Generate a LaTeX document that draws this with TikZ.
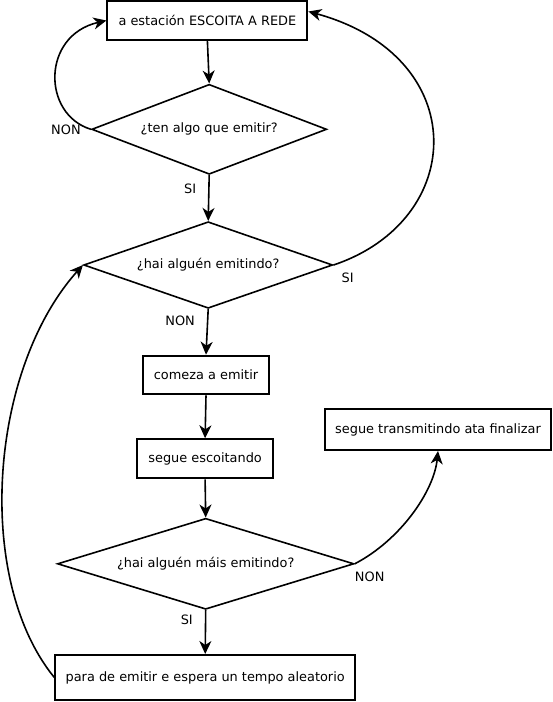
\documentclass[tikz,border=0pt]{standalone}
\usepackage{fontspec}
\setmainfont{DejaVu Sans}
\usetikzlibrary{shapes.geometric,arrows.meta,positioning}

\def\boxHeight{39pt}
\def\labelGap{11pt}

\begin{document}
\begin{tikzpicture}[x=1pt,y=-1pt,
    font=\fontsize{12.9}{15}\selectfont,
    stepbox/.style={draw,line width=2pt,minimum height=\boxHeight,inner sep=2pt},
    question/.style={draw,diamond,shape aspect=3,inner sep=0pt,line width=1.6pt},
    flow/.style={line width=1.6pt,-{Stealth[length=13pt,width=12pt,inset=4pt]}},
    answer/.style={inner sep=1pt}]
    \useasboundingbox (0,0) rectangle (552,702);

    \node[stepbox,minimum width=200pt] (listen) at (207.4,20.5) {a estación ESCOITA A REDE};
    \node[question,minimum width=235pt,minimum height=90pt] (anything) at (209.2,129.3) {¿ten algo que emitir?};
    \node[question,minimum width=249pt,minimum height=86.6pt] (busy) at (208.2,265) {¿hai alguén emitindo?};
    \node[stepbox,minimum width=126.8pt,minimum height=38.6pt] (start) at (206,375) {comeza a emitir};
    \node[stepbox,minimum width=226pt,minimum height=41pt] (transmit) at (438,429.5) {segue transmitindo ata finalizar};
    \node[stepbox,minimum width=135.6pt] (keep) at (205.1,458.8) {segue escoitando};
    \node[question,minimum width=296.5pt,minimum height=91pt] (more) at (205.7,563.8) {¿hai alguén máis emitindo?};
    \node[stepbox,minimum width=299.7pt,minimum height=45pt] (backoff) at (205.2,677.5) {para de emitir e espera un tempo aleatorio};

    \foreach \a/\b in {listen/anything,start/keep,keep/more} {
      \draw[flow] (\a.south) -- (\b.north);
    }
    \draw[flow] (anything.south) -- node[answer,pos=0.29,left=\labelGap] (yesOne) {SI} (busy.north);
    \draw[flow] (busy.south) -- node[answer,pos=0.26,left=\labelGap] (noTwo) {NON} (start.north);
    \draw[flow] (more.south) -- node[answer,pos=0.21,left=\labelGap] (yesThree) {SI} (backoff.north);

    \draw[flow] (anything.west) .. controls +(-49,-15) and +(-65,15) .. (listen.west);
    \draw[flow] (busy.east) .. controls +(134,-45) and +(164,45) .. ([yshift=9pt]listen.east);
    \draw[flow] (more.east) .. controls +(46,-24) and +(-4,40) .. (transmit.south);
    \draw[flow] (backoff.west) .. controls +(-80,-98) and +(-94,105) .. (busy.west);

    \node[answer,left=9pt of anything.west] (noOne) {NON};
    \node[answer,below right=7pt and 7pt of busy.east] (yesTwo) {SI};
    \node[answer,below right=7pt and -1pt of more.east] (noThree) {NON};
  \end{tikzpicture}
\end{document}
